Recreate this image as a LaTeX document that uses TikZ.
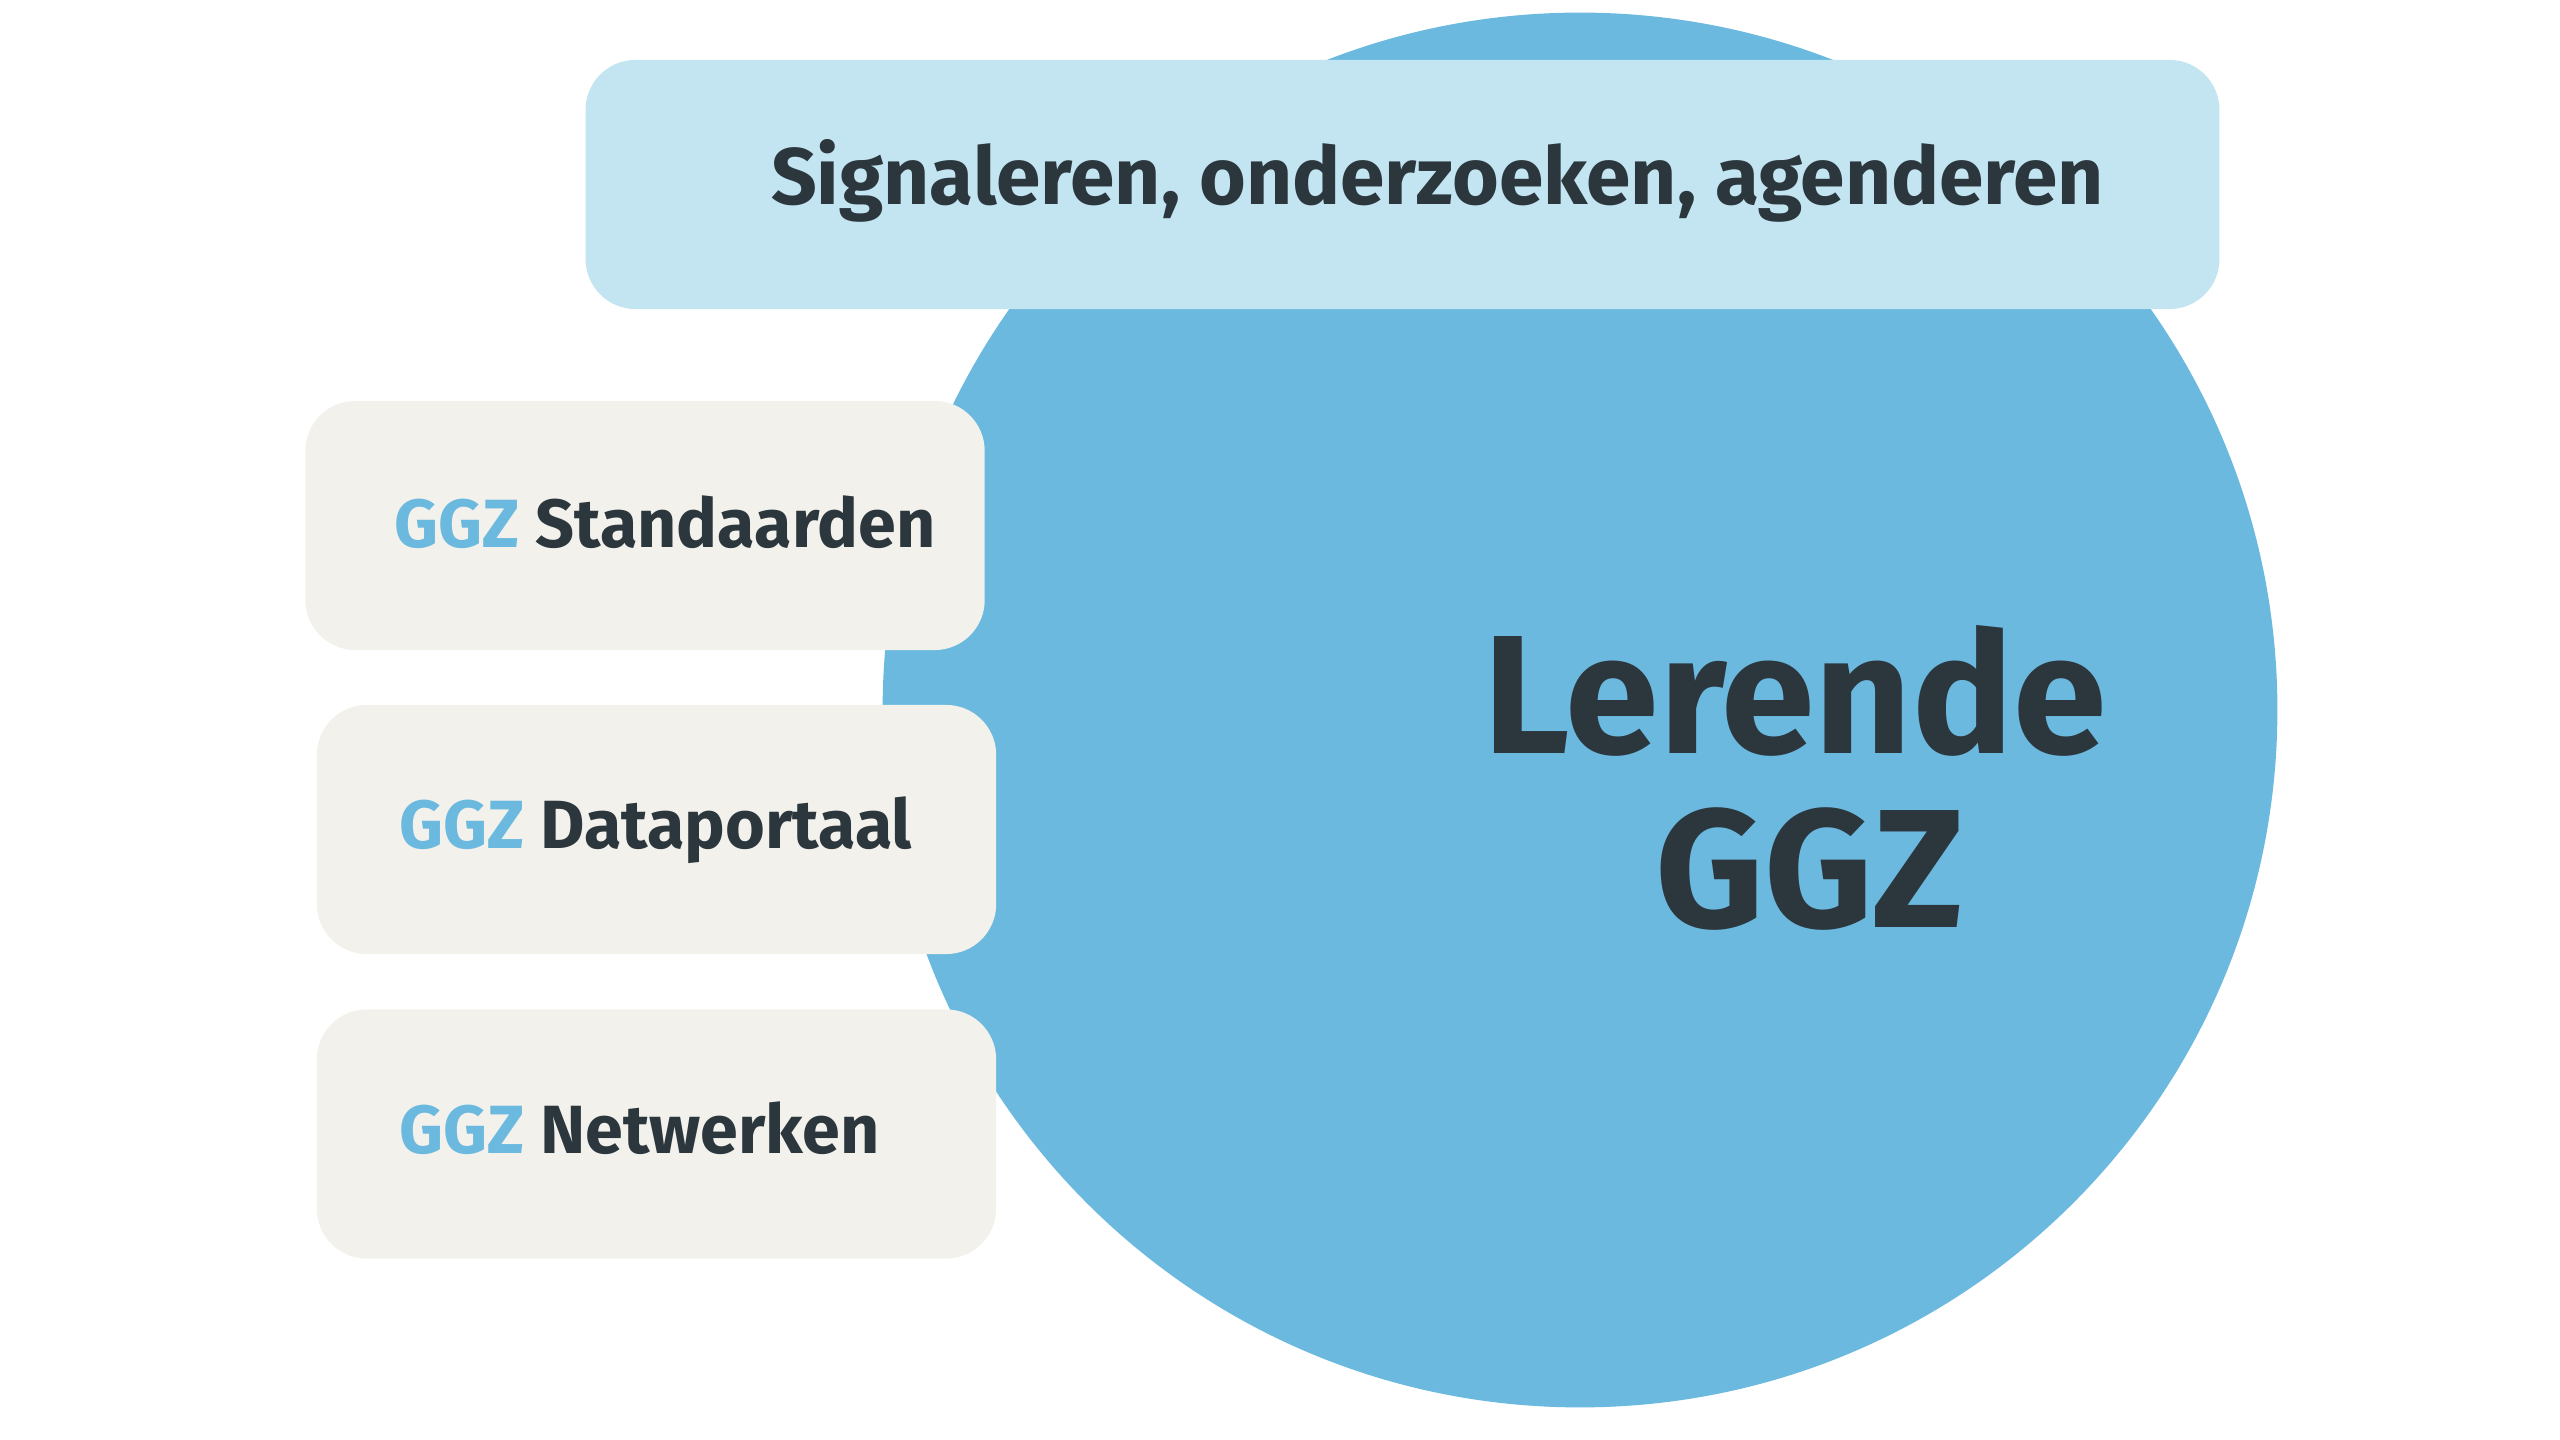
\documentclass[tikz,border=0pt]{standalone}
\usepackage{fontspec}
\setmainfont{Fira Sans}
\usepackage{tikz}
\usepackage{xcolor}
\definecolor{ColA}{RGB}{108,185,223}
\definecolor{ColB}{RGB}{195,228,241}
\definecolor{ColC}{RGB}{242,241,236}
\definecolor{ColD}{RGB}{43,54,61}
\tikzstyle{BigDisc}=[circle,fill=ColA,minimum size=13.94cm,inner sep=0pt]
\tikzstyle{TopBox}=[fill=ColB,rounded corners=0.5cm,minimum width=16.33cm,minimum height=2.49cm,inner sep=0pt]
\tikzstyle{SideBox}=[fill=ColC,rounded corners=0.5cm,minimum width=6.79cm,minimum height=2.49cm,inner sep=0pt]
\tikzstyle{TopText}=[anchor=base,inner sep=0pt,text=ColD,font=\bfseries\fontsize{22.8}{26}\selectfont]
\tikzstyle{SideText}=[anchor=base west,inner sep=0pt,text=ColD,font=\bfseries\fontsize{19.4}{23}\selectfont]
\tikzstyle{TitleText}=[anchor=base,inner sep=0pt,text=ColD,font=\bfseries\fontsize{48}{51}\selectfont]
\newcommand{\GGZ}{\textcolor{ColA}{GGZ}}

\begin{document}
\begin{tikzpicture}[x=0.01cm,y=-0.01cm]
        \useasboundingbox (0,0) rectangle (2560,1440);
        \node[BigDisc](disc)at(1580,710){};
        \node[TopBox](top)at(1402.5,184.5){};
        \node[TopText](topt)at(1437.5,205){Signaleren, onderzoeken, agenderen};
        \node[SideBox](std)at(645,525.5){};
        \node[SideBox](dat)at(656.5,829.5){};
        \node[SideBox](net)at(656.5,1134){};
        \node[SideText](stdt)at(394,548){\GGZ{} Standaarden};
        \node[SideText](datt)at(399,849){\GGZ{} Dataportaal};
        \node[SideText](nett)at(399,1153){\GGZ{} Netwerken};
        \node[TitleText](lrn)at(1795,754){Lerende};
        \node[TitleText](ggz)at(1810,928){GGZ};
    \end{tikzpicture}
\end{document}
